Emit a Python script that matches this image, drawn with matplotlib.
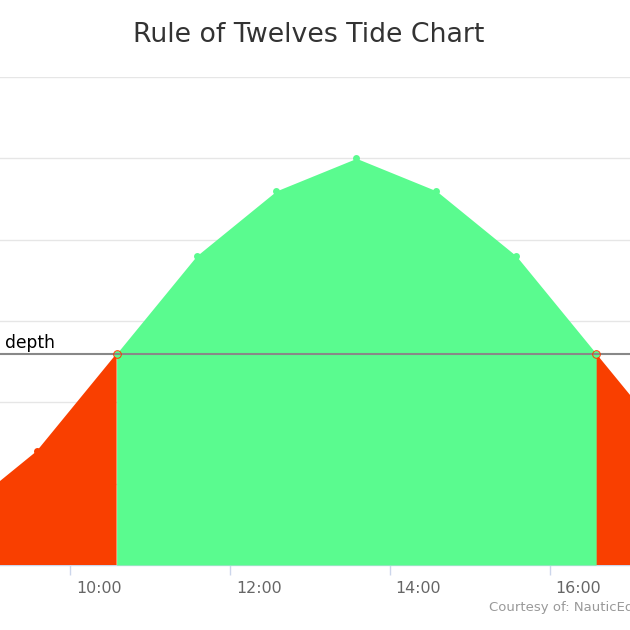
import matplotlib
matplotlib.use("Agg")
import matplotlib.pyplot as plt
import matplotlib.transforms as mtransforms
import numpy as np

# ---- data ----
times = ["07:35", "08:35", "09:35", "10:35", "11:35", "12:35", "13:35",
         "14:35", "15:35", "16:35", "17:35", "18:35", "19:35"]
heights = [0.2, 0.6, 1.4, 2.6, 3.8, 4.6, 5.0, 4.6, 3.8, 2.6, 1.4, 0.6, 0.2]
min_depth = 2.6
tick_hours = [10, 12, 14, 16]
tick_labels = ["10:00", "12:00", "14:00", "16:00"]
title = "Rule of Twelves Tide Chart"
depth_label = "depth"
credit = "Courtesy of: NauticEd"

def to_hours(s):
    h, m = s.split(":")
    return int(h) + int(m) / 60.0

t = np.array([to_hours(s) for s in times])
h = np.array(heights)

GREEN = "#5afb8f"
RED = "#f93f00"

W = H = 630
fig = plt.figure(figsize=(6.3, 6.3), dpi=100)
fig.patch.set_facecolor("white")

ax_bottom_px, ax_top_px = 565, 77
ax = fig.add_axes([0, 1 - ax_bottom_px / H, 1, (ax_bottom_px - ax_top_px) / H])
ax.set_facecolor("white")

px_per_hr = (549.5 - 70) / 6.0
x0 = 10 - 70 / px_per_hr
x1 = 10 + (W - 70) / px_per_hr
ax.set_xlim(x0, x1)
ax.set_ylim(0, 6)

# grid
for yv in range(1, 7):
    ax.axhline(yv, color="#e6e6e6", lw=1, zorder=0)

below = h <= min_depth
above = h >= min_depth
ax.fill_between(t, 0, h, where=below, color=RED, lw=0, zorder=2, antialiased=True)
ax.fill_between(t, 0, h, where=above, color=GREEN, lw=0, zorder=2, antialiased=True)

# markers
ax.plot(t[above], h[above], "o", ms=5, color=GREEN, mew=0, zorder=3)
ax.plot(t[below & ~above], h[below & ~above], "o", ms=5, color=RED, mew=0, zorder=3)
ax.plot(t[below & above], h[below & above], "o", ms=5.5, mfc="none", mec=RED, mew=0.7, zorder=5)

# depth plot line
ax.axhline(min_depth, color="#888888", lw=1.5, zorder=4)
ax.text(5 / W, min_depth + 0.02, depth_label,
        transform=mtransforms.blended_transform_factory(ax.transAxes, ax.transData),
        ha="left", va="bottom", fontsize=12.3, color="#000000", zorder=6)

# axes styling
for s in ["left", "right", "top"]:
    ax.spines[s].set_visible(False)
ax.spines["bottom"].set_color("#ccd6eb")
ax.spines["bottom"].set_linewidth(1)
ax.spines["bottom"].set_zorder(1)
ax.set_yticks([])
ax.set_xticks(tick_hours)
ax.set_xticklabels(tick_labels)
ax.tick_params(axis="x", direction="out", length=7.5, width=1, color="#ccd6eb",
               labelsize=11.4, labelcolor="#666666", pad=4)
offset = mtransforms.ScaledTranslation(6 / 100, 0, fig.dpi_scale_trans)
for lab in ax.get_xticklabels():
    lab.set_horizontalalignment("left")
    lab.set_transform(lab.get_transform() + offset)

fig.text(309 / W, 1 - 35 / H, title, ha="center", va="center", fontsize=19.3, color="#333333")
fig.text(489 / W, 1 - 607 / H, credit, ha="left", va="center", fontsize=9.5, color="#999999")

fig.savefig("out.png", dpi=100, facecolor="white")
